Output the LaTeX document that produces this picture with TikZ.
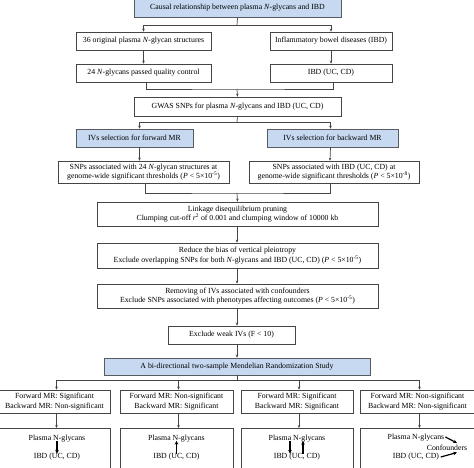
\documentclass[tikz,border=0pt]{standalone}
\usepackage{fontspec}
\setmainfont{Liberation Serif}
\usetikzlibrary{arrows.meta,calc}
\definecolor{boxline}{HTML}{454545}
\definecolor{boxblue}{HTML}{C6D9F1}
\tikzset{
  box/.style={draw=boxline, line width=0.6pt, fill=white, align=center, inner sep=1pt,
    font=\fontsize{7.8}{9.4}\selectfont},
  bluebox/.style={box, fill=boxblue, draw=boxline!85!boxblue},
  txt/.style={inner sep=0pt, font=\fontsize{7.8}{9.4}\selectfont},
  flow/.style={draw=boxline, line width=0.7pt, -{Stealth[length=3pt,width=2.6pt]}},
  link/.style={draw=boxline, line width=0.7pt},
  fat/.style={line width=1.2pt, -{Stealth[length=3.8pt,width=3.6pt]}},
}
\begin{document}
\begin{tikzpicture}[x=1pt,y=-1pt]
  \useasboundingbox (0,0) rectangle (474,467);

  % Top part
  \node[bluebox, minimum width=207pt, minimum height=19pt] (top) at (237.5,8) {Causal relationship between plasma \textit{N}-glycans and IBD};
  \node[box, minimum width=135pt, minimum height=18pt] (orig) at (143.5,41) {36 original plasma \textit{N}-glycan structures};
  \node[box, minimum width=122pt, minimum height=18pt] (ibd) at (331,41) {Inflammatory bowel diseases (IBD)};
  \node[box, minimum width=135pt, minimum height=18pt] (qc) at (143.5,73) {24 \textit{N}-glycans passed quality control};
  \node[box, minimum width=122pt, minimum height=18pt] (ucd) at (331,73) {IBD (UC, CD)};
  \node[box, minimum width=207pt, minimum height=19pt] (gwas) at (237.5,106.5) {GWAS SNPs for plasma \textit{N}-glycans and IBD (UC, CD)};

  % IV selection
  \node[bluebox, minimum width=117pt, minimum height=18pt] (fwd) at (134.5,138) {IVs selection for forward MR};
  \node[bluebox, minimum width=131pt, minimum height=18pt] (bwd) at (332.5,138) {IVs selection for backward MR};
  \node[box, minimum width=171pt, minimum height=22pt] (snpf) at (143.5,172) {SNPs associated with 24 \textit{N}-glycan structures at\\genome-wide significant thresholds (\textit{P} < 5×10\textsuperscript{-5})};
  \node[box, minimum width=170pt, minimum height=22pt] (snpb) at (334,172) {SNPs associated with IBD (UC, CD) at\\genome-wide significant thresholds (\textit{P} < 5×10\textsuperscript{-8})};
  \node[box, minimum width=281pt, minimum height=24pt] (ld) at (237.5,214) {Linkage disequilibrium pruning\\Clumping cut-off \textit{r}\textsuperscript{2} of 0.001 and clumping window of 10000 kb};
  \node[box, minimum width=281pt, minimum height=25pt] (bias) at (237.5,255.5) {Reduce the bias of vertical pleiotropy\\Exclude overlapping SNPs for both \textit{N}-glycans and IBD (UC, CD) (\textit{P} < 5×10\textsuperscript{-5})};
  \node[box, minimum width=281pt, minimum height=24pt] (conf) at (237.5,296) {Removing of IVs associated with confounders\\Exclude SNPs associated with phenotypes affecting outcomes (\textit{P} < 5×10\textsuperscript{-5})};
  \node[box, minimum width=127pt, minimum height=18pt] (weak) at (231.5,335) {Exclude weak IVs (F < 10)};
  \node[bluebox, minimum width=266pt, minimum height=17pt] (study) at (237,366.5) {A bi-directional two-sample Mendelian Randomization Study};

  % Results
  \node[box, minimum width=111pt, minimum height=23pt] (r1) at (54.5,401.5) {Forward MR: Significant\\Backward MR: Non-significant};
  \node[box, minimum width=113pt, minimum height=23pt] (r2) at (176.5,401.5) {Forward MR: Non-significant\\Backward MR: Significant};
  \node[box, minimum width=112pt, minimum height=23pt] (r3) at (297,401.5) {Forward MR: Significant\\Backward MR: Significant};
  \node[box, minimum width=115pt, minimum height=23pt] (r4) at (417.5,401.5) {Forward MR: Non-significant\\Backward MR: Non-significant};
  \foreach \n/\x/\w in {1/54.5/111, 2/176.5/113, 3/297/112, 4/417.5/115}
    \node[box, minimum width=\w pt, minimum height=44pt, anchor=north] (b\n) at (\x,428) {};

  % Texts in the lower boxes
  \node[txt] (g1) at (57,438.5) {Plasma N-glycans};
  \node[txt] (i1) at (57,457) {IBD (UC, CD)};
  \node[txt] (g2) at (176.5,438.5) {Plasma N-glycans};
  \node[txt] (i2) at (176.5,457) {IBD (UC, CD)};
  \node[txt] (g3) at (297,438.5) {Plasma N-glycans};
  \node[txt] (i3) at (297,457) {IBD (UC, CD)};
  \node[txt] (g4) at (416,438) {Plasma N-glycans};
  \node[txt] (c4) at (447,447.5) {Confounders};
  \node[txt] (i4) at (416,457) {IBD (UC, CD)};

  % Connectors
  \coordinate (s1) at (237,25);
  \draw[link] (top.south) -- (s1);
  \draw[flow] (s1) -| (orig.north);
  \draw[flow] (s1) -| (ibd.north);
  \draw[flow] (orig) -- (qc);
  \draw[flow] (ibd) -- (ucd);
  \coordinate (s2) at (237,89);
  \draw[link] ([xshift=3pt]qc.south) |- (s2) -| ([xshift=2pt]ucd.south);
  \draw[flow] (s2) -- (gwas.north);
  \coordinate (s3) at (237,122);
  \draw[link] (gwas.south) -- (s3);
  \draw[flow] (s3) -| ([xshift=5pt]fwd.north);
  \draw[flow] (s3) -| ([xshift=-2pt]bwd.north);
  \draw[flow] ([xshift=5pt]fwd.south) -- ([xshift=-4pt]snpf.north);
  \draw[flow] ([xshift=-2pt]bwd.south) -- ([xshift=-4pt]snpb.north);
  \coordinate (s4) at (237,193);
  \draw[link] ([xshift=2pt]snpf.south) |- (s4) -| ([xshift=-4pt]snpb.south);
  \draw[flow] (s4) -- (ld.north);
  \draw[flow] ([xshift=-0.5pt]ld.south) -- ([xshift=-0.5pt]bias.north);
  \draw[flow] ([xshift=-0.5pt]bias.south) -- ([xshift=-0.5pt]conf.north);
  \draw[flow] ([xshift=-0.5pt]conf.south) -- ([xshift=-0.5pt]conf.south |- weak.north);
  \draw[flow] (study.north |- weak.south) -- (study.north);
  \coordinate (s5) at (237,380);
  \draw[link] (study.south) -- (s5);
  \foreach \n in {1,...,4} {
    \draw[flow] (s5) -| ([xshift=2pt]r\n.north);
    \draw[flow] ([xshift=2pt]r\n.south) -- ([xshift=2pt]b\n.north);
  }

  % Arrows inside the lower boxes
  \draw[fat] ([yshift=1.5pt]g1.south) -- ([yshift=-0.5pt]i1.north);
  \draw[fat] ([yshift=-0.5pt]i2.north) -- ([yshift=1.5pt]g2.south);
  \draw[fat] ([xshift=-7pt,yshift=1.5pt]g3.south) -- ([xshift=-7pt,yshift=-0.5pt]i3.north);
  \draw[fat] ([xshift=6pt,yshift=-0.5pt]i3.north) -- ([xshift=6pt,yshift=1.5pt]g3.south);
  \draw[fat] ([xshift=1pt,yshift=1pt]g4.east) -- ([xshift=10pt,yshift=1.5pt]c4.north);
  \draw[fat] ([xshift=1.5pt]i4.east) -- ([xshift=10pt,yshift=-2pt]c4.south);
\end{tikzpicture}
\end{document}
